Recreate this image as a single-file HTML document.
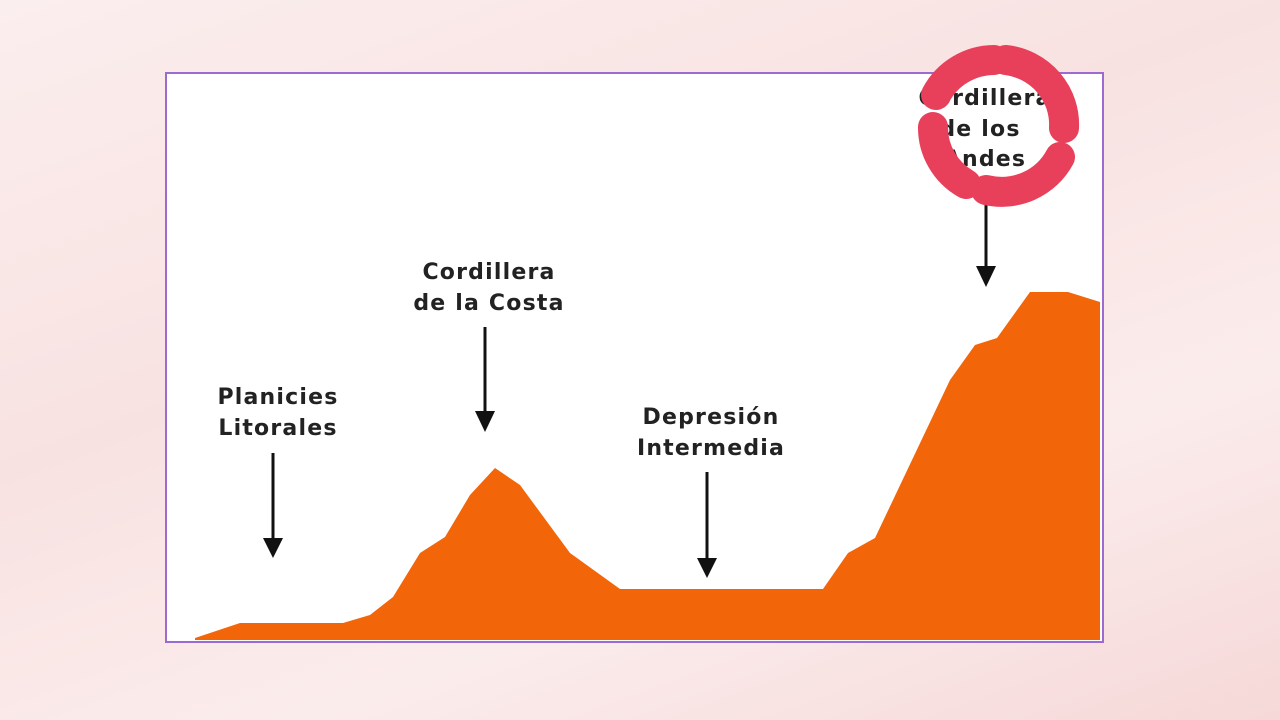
<!DOCTYPE html>
<html><head><meta charset="utf-8"><style>
html,body{margin:0;padding:0;width:1280px;height:720px;overflow:hidden}
body{background:linear-gradient(160deg,#fbeeee 0%,#f8e2e1 40%,#fbecec 70%,#f6d8d8 100%)}
</style></head><body>
<svg width="1280" height="720" viewBox="0 0 1280 720" xmlns="http://www.w3.org/2000/svg">
<rect x="166" y="73" width="937" height="569" fill="#fff" stroke="#9b6bd0" stroke-width="2"/>
<polygon fill="#f26509" points="195,638 240,623 343,623 370,615 393,597 420,553 445,537 470,495 495,468 520,485 570,553 620,589 823,589 848,553 875,538 950,380 975,345 997,338 1030,292 1068,292 1100,302 1100,640 195,640"/>
<g font-family="DejaVu Sans, Liberation Sans, sans-serif" font-weight="bold" font-size="22" fill="#222" text-anchor="middle" letter-spacing="1.2">
<text x="278" y="404">Planicies</text><text x="278" y="435">Litorales</text>
<text x="489" y="279">Cordillera</text><text x="489" y="310">de la Costa</text>
<text x="711" y="424">Depresión</text><text x="711" y="455">Intermedia</text>
<text x="985" y="105">Cordillera</text><text x="980" y="136">de los</text><text x="985" y="166">Andes</text>
</g>
<g stroke="#111" stroke-width="3">
<line x1="273" y1="453" x2="273" y2="542"/><line x1="485" y1="327" x2="485" y2="415"/>
<line x1="707" y1="472" x2="707" y2="562"/><line x1="986" y1="205" x2="986" y2="270"/>
</g>
<g fill="#111">
<polygon points="263,538 283,538 273,558"/><polygon points="475,411 495,411 485,432"/>
<polygon points="697,558 717,558 707,578"/><polygon points="976,266 996,266 986,287"/>
</g>
<g fill="none" stroke="#e8405a" stroke-width="30" stroke-linecap="round">
<path d="M936,95 A66,65 0 0 1 994,60"/>
<path d="M1006,60 A66,65 0 0 1 1064,128"/>
<path d="M1060,157 A66,65 0 0 1 986,190"/>
<path d="M966,184 A66,65 0 0 1 933,127"/>
</g>
</svg>
</body></html>
